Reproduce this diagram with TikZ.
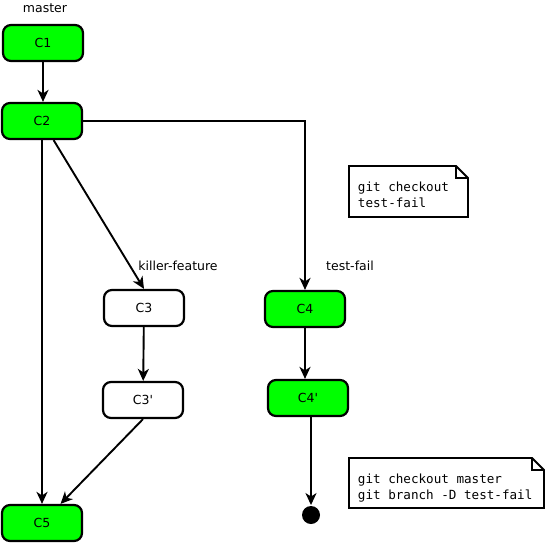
\documentclass[tikz,border=0pt]{standalone}
\usepackage{fontspec}
\setmainfont{DejaVu Sans}
\setmonofont{DejaVu Sans Mono}
\usetikzlibrary{arrows.meta}

\begin{document}
\begin{tikzpicture}
  [x=1pt,y=-1pt,line width=1.9pt,
   every node/.style={font=\fontsize{12.5}{16}\selectfont},
   commit/.style={draw,line width=2.2pt,rounded corners=8pt,fill=green,
     minimum width=80pt,minimum height=36pt,inner sep=0pt},
   plaincommit/.style={commit,fill=white},
   lbl/.style={inner sep=0pt},
   cmd/.style={font=\ttfamily\fontsize{12.6}{16}\selectfont,align=left,anchor=west,inner sep=0pt},
   tip/.style={-{Stealth[length=12pt,width=11pt,inset=3.5pt]}}]
  \useasboundingbox (0,0) rectangle (546,543);

  \node[commit] (c1) at (43,43) {C1};
  \node[commit] (c2) at (42,121) {C2};
  \node[plaincommit] (c3) at (144,308) {C3};
  \node[plaincommit] (c3p) at (143,400) {C3\textquotesingle};
  \node[commit] (c4) at (305,309) {C4};
  \node[commit] (c4p) at (308,398) {C4\textquotesingle};
  \node[commit] (c5) at (42,523) {C5};
  \node[circle,fill,minimum size=18pt,inner sep=0pt] (end) at (311,515) {};

  % branch labels
  \node[lbl] (master) at (45,8) {master};
  \node[lbl] (killer) at (178,266) {killer-feature};
  \node[lbl] (testfail) at (350,266) {test-fail};

  % notes
  \draw[line width=1.8pt,fill=white] (349,166) -- (456,166) -- (468,178) -- (468,217) -- (349,217) -- cycle;
  \draw[line width=1.2pt] (456,166) -- (456,178) -- (468,178);
  \node[cmd] (note1) at (357,195) {git checkout\\test-fail};
  \draw[line width=1.8pt,fill=white] (349,458) -- (532,458) -- (544,470) -- (544,508) -- (349,508) -- cycle;
  \draw[line width=1.2pt] (532,458) -- (532,470) -- (544,470);
  \node[cmd] (note2) at (357,488) {git checkout master\\git branch -D test-fail};

  \foreach \from/\to in {c2/c5,c2/c3.north,c3/c3p,c3p.south/c5}
    \draw[tip] (\from) -- (\to);
  \draw[tip] (c1.south) -- (c1.south |- c2.north);
  \draw[tip] (c4.south) -- (c4.south |- c4p.north);
  \draw[tip] (end |- c4p.south) -- (end);
  \draw[tip] (c2.east) -| (c4.north);

\end{tikzpicture}
\end{document}
